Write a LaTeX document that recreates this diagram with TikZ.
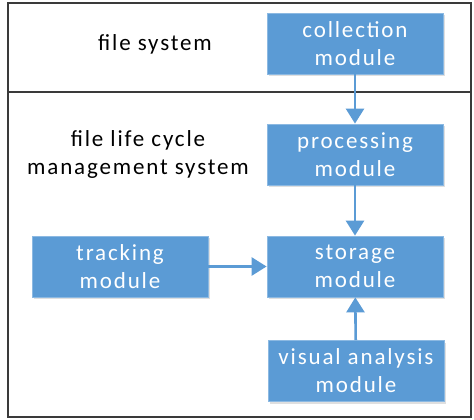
\documentclass[tikz,border=0pt]{standalone}
\usepackage{fontspec}
\setmainfont{Carlito}[LetterSpace=8]
\usetikzlibrary{arrows.meta,shadows}
\definecolor{boxblue}{HTML}{5B9BD5}
\definecolor{framegray}{HTML}{3A3A3A}
\tikzset{
  modbox/.style={draw=boxblue!70!white, line width=0.8pt, fill=boxblue, text=white,
    minimum width=176pt, minimum height=61pt, align=center, inner sep=0pt,
    font=\fontsize{23}{28}\selectfont,
    drop shadow={opacity=0.25, shadow xshift=2pt, shadow yshift=-2pt}},
  lbl/.style={align=center, font=\fontsize{23}{28}\selectfont, text=black},
  flow/.style={draw=boxblue, line width=2.6pt, -{Triangle[length=15pt,width=18pt]}},
  frame/.style={draw=framegray, line width=1.6pt}
}
\begin{document}
\begin{tikzpicture}[x=1pt,y=-1pt]
\useasboundingbox (0,0) rectangle (474,420);
\fill[white] (0,0) rectangle (474,420);
\draw[frame] (8,3) rectangle (471,417);
\draw[frame] (8,92) -- (471,92);
\node[modbox] (col) at (355,43.5) {collection\\module};
\node[modbox] (pro) at (355,154.5) {processing\\module};
\node[modbox] (sto) at (355,266.5) {storage\\module};
\node[modbox] (trk) at (120,266.5) {tracking\\module};
\node[modbox] (vis) at (356,371) {visual analysis\\module};
\node[lbl] (fs) at (155,44) {file system};
\node[lbl] (flc) at (138,154) {file life cycle\\management system};
\draw[flow] (col) -- (pro);
\draw[flow] (pro) -- (sto);
\draw[flow] (trk) -- (sto);
\draw[flow] (vis) -- (sto);
\end{tikzpicture}
\end{document}
